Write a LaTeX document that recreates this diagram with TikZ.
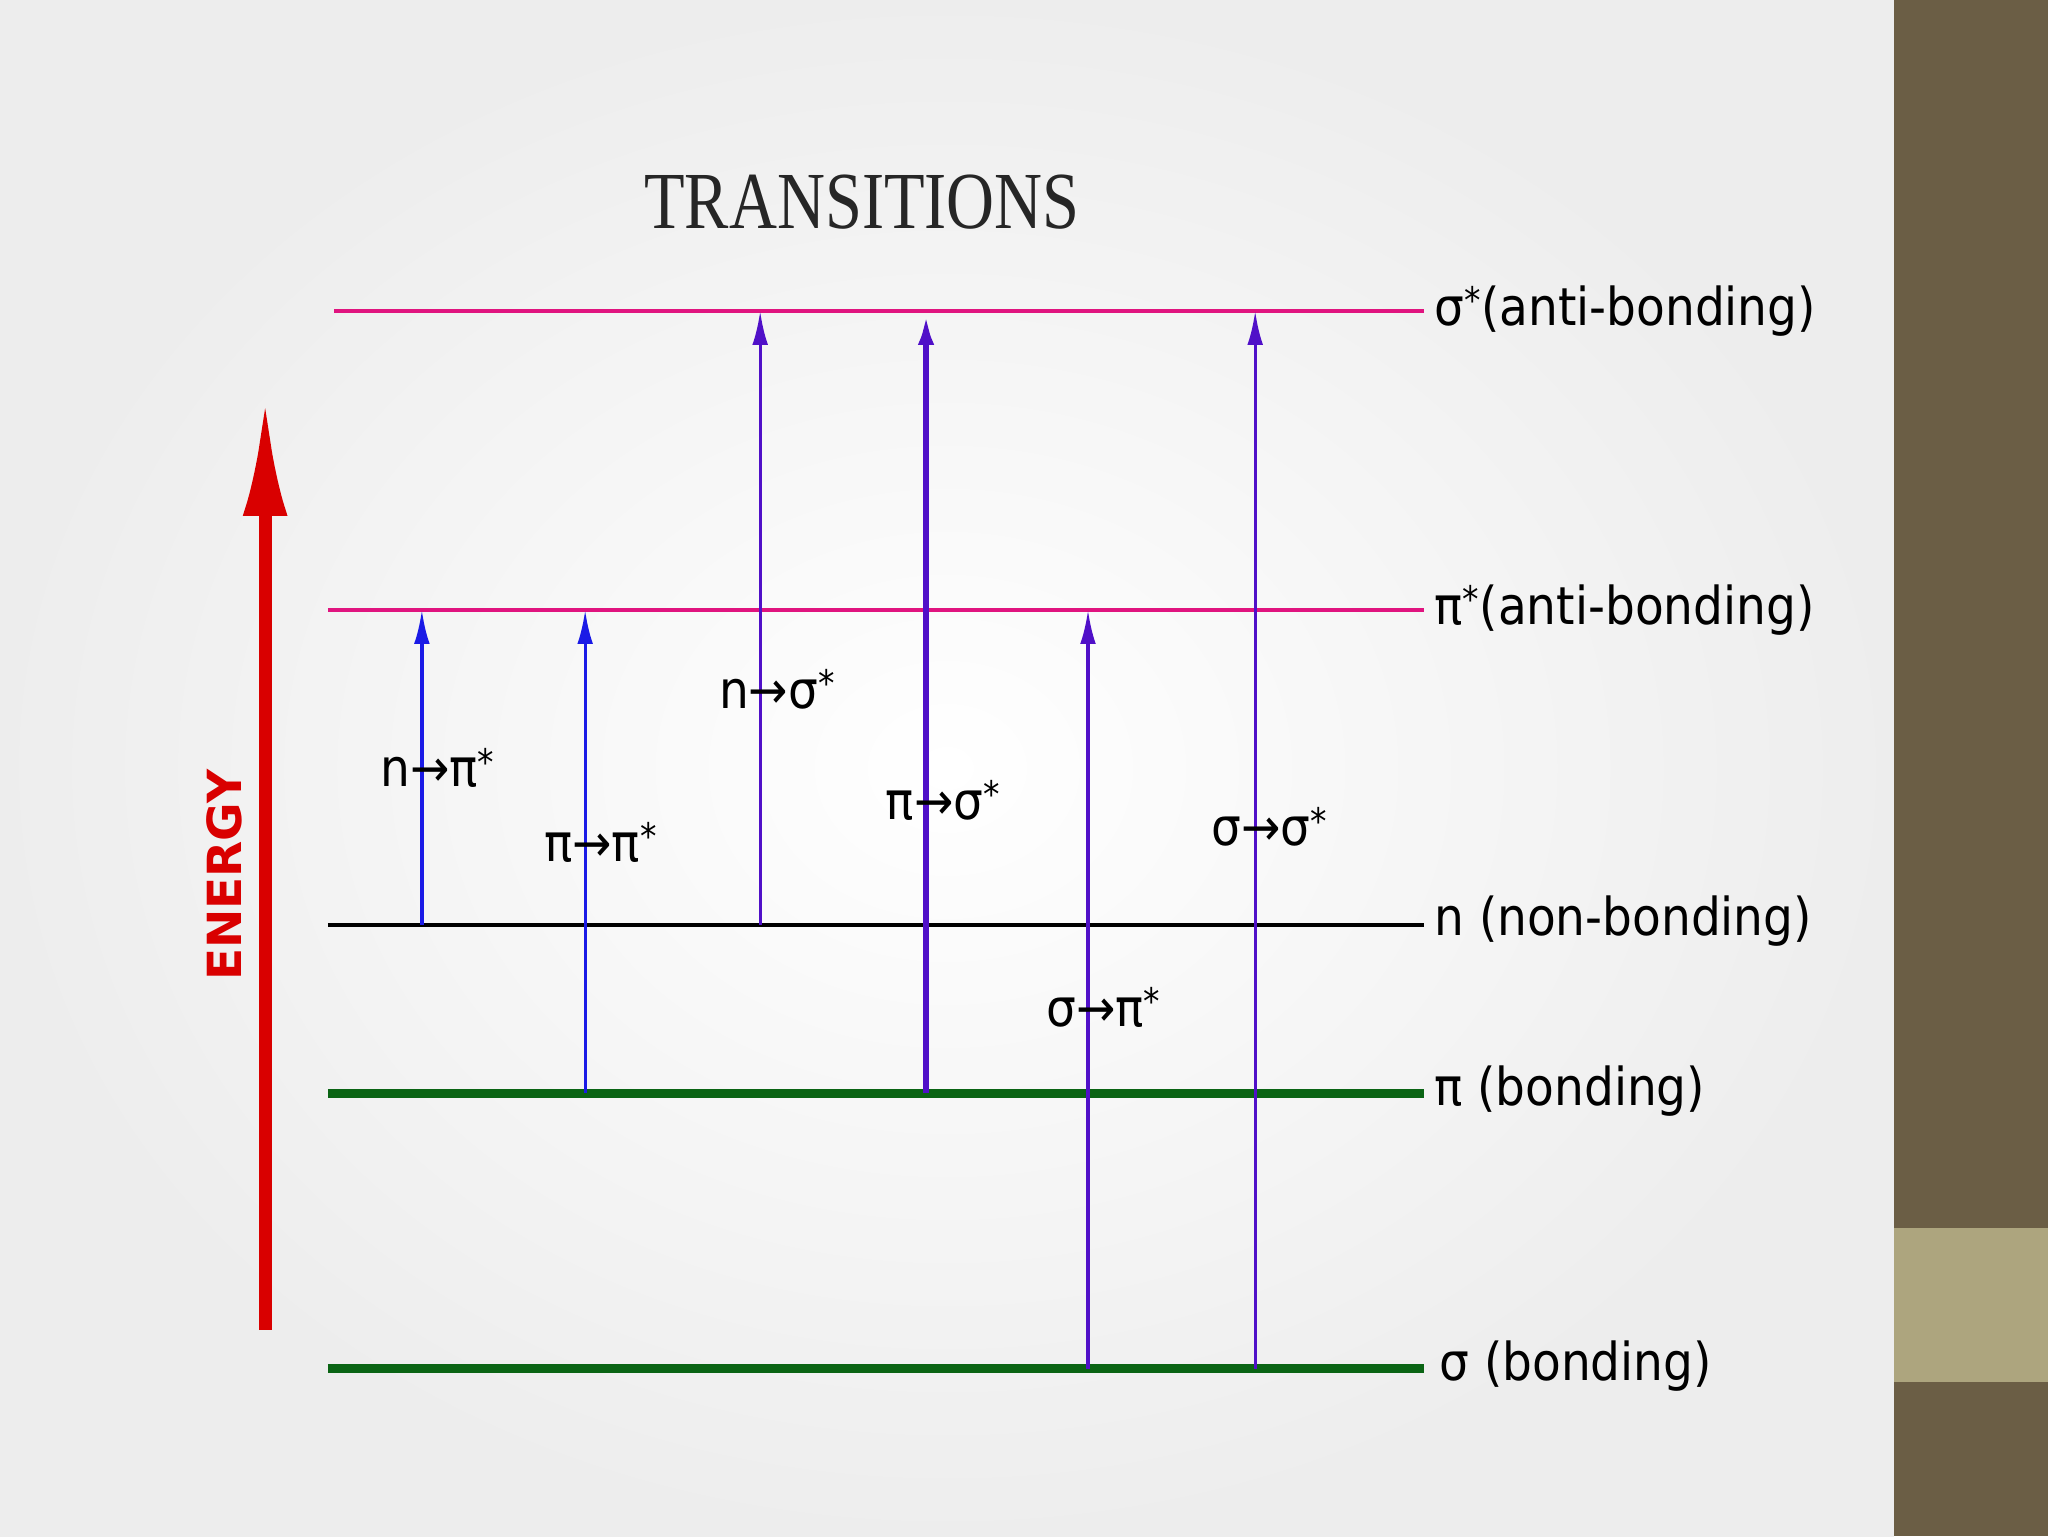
\documentclass[tikz,border=0pt]{standalone}
\usepackage{fontspec}
\setmainfont{DejaVu Sans Condensed}
\newfontfamily\titlefont{Liberation Serif}
\newfontfamily\energyfont{DejaVu Sans}
\usetikzlibrary{arrows.meta}
\definecolor{levelpink}{HTML}{E0147F}
\definecolor{levelgreen}{HTML}{0A6414}
\definecolor{arrowblue}{HTML}{1A1AE6}
\definecolor{arrowpurple}{HTML}{5010C8}
\definecolor{stripbrown}{HTML}{6B5E45}
\definecolor{stripolive}{HTML}{ADA57E}
\newcommand{\st}{\textsuperscript{*}}
\begin{document}
\begin{tikzpicture}[x=1pt,y=-1pt,
  level/.style={line width=3pt},
  bondlevel/.style={levelgreen,line width=7pt},
  trans/.style={->,line width=2.5pt,>={Latex[length=26pt,width=12pt]}},
  lbl/.style={font=\fontsize{40}{44}\selectfont,inner sep=0pt},
  side/.style={font=\fontsize{40}{44}\selectfont,anchor=west,inner sep=0pt}]
  \useasboundingbox (0,0) rectangle (1568,1176);
  % background
  \shade[inner color=white,outer color=black!7] (0,0) rectangle (1450,1176);
  \fill[stripbrown] (1450,0) rectangle (1568,1176);
  \fill[stripolive] (1450,940) rectangle (1568,1058);

  \node[font=\titlefont\fontsize{62}{66}\selectfont,text=black!85,xscale=0.82] (title) at (660,155) {TRANSITIONS};

  % levels
  \coordinate (ssL) at (256,238);  \coordinate (ssR) at (1090,238);
  \coordinate (psL) at (251,467);  \coordinate (psR) at (1090,467);
  \coordinate (nL) at (251,708);   \coordinate (nR) at (1090,708);
  \coordinate (pL) at (251,837);   \coordinate (pR) at (1090,837);
  \coordinate (sL) at (251,1048);  \coordinate (sR) at (1090,1048);
  \draw[level,levelpink] (ssL) -- (ssR);
  \draw[level,levelpink] (psL) -- (psR);
  \draw[level,black] (nL) -- (nR);
  \draw[bondlevel] (pL) -- (pR);
  \draw[bondlevel] (sL) -- (sR);

  \node[side] (ssT) at (1098,238) {σ\st(anti-bonding)};
  \node[side] (psT) at (1098,467) {π\st(anti-bonding)};
  \node[side] (nT) at (1098,705) {n (non-bonding)};
  \node[side] (pT) at (1098,835) {π (bonding)};
  \node[side] (sT) at (1102,1046) {σ (bonding)};

  % transitions
  \foreach \x/\ya/\yb/\c in {323/708/467/arrowblue, 448/837/467/arrowblue,
      582/708/238/arrowpurple, 833/1048/467/arrowpurple, 961/1048/238/arrowpurple}
    \draw[trans,\c] (\x,\ya) -- (\x,\yb);
  \draw[trans,arrowpurple,line width=5pt] (709,837) -- (709,238);

  \node[lbl] (npi) at (335,588) {n→π\st};
  \node[lbl] (pipi) at (460,645) {π→π\st};
  \node[lbl] (nsig) at (595,528) {n→σ\st};
  \node[lbl] (pisig) at (722,613) {π→σ\st};
  \node[lbl] (sigpi) at (845,771) {σ→π\st};
  \node[lbl] (sigsig) at (972,633) {σ→σ\st};

  % energy axis
  \draw[->,red!85!black,line width=10pt,>={Latex[length=90pt,width=34pt]}] (203,1018) -- (203,305);
  \node[rotate=90,text=red!85!black,font=\energyfont\bfseries\fontsize{36}{40}\selectfont] (energy) at (172,670) {ENERGY};
\end{tikzpicture}
\end{document}
